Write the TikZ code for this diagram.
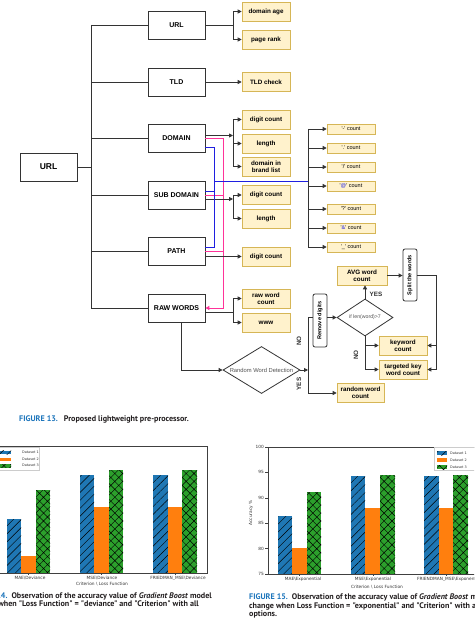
\documentclass[tikz,border=0pt]{standalone}
\usepackage{fontspec}
\setmainfont{Liberation Sans}
\newfontfamily\capfont{PT Sans}
\newfontfamily\plotfont{DejaVu Sans}
\usetikzlibrary{arrows.meta,shapes.geometric,calc,patterns.meta}
\definecolor{ln}{HTML}{333333}
\definecolor{fy}{HTML}{FFF2CC}
\definecolor{fyd}{HTML}{D6B656}
\definecolor{bl}{HTML}{1F1FE0}
\definecolor{pk}{HTML}{FF3399}
\definecolor{mb}{HTML}{1F77B4}
\definecolor{mo}{HTML}{FF7F0E}
\definecolor{mg}{HTML}{2CA02C}
\definecolor{capb}{HTML}{1C75BC}
\definecolor{capt}{HTML}{231F20}
\newcommand\myfs[2]{\fontsize{#1pt}{#2pt}\selectfont}
\newcommand\sq{\textquotesingle}
\newcommand\barB[4]{\fill[mb] (#1,#3) rectangle (#2,#4); \fill[pattern={Lines[angle=45,distance=5.6pt,line width=0.45pt]}, pattern color=black] (#1,#3) rectangle (#2,#4);}
\newcommand\barO[4]{\fill[mo] (#1,#3) rectangle (#2,#4);}
\newcommand\barG[4]{\fill[mg] (#1,#3) rectangle (#2,#4); \fill[pattern={Hatch[angle=45,distance=5.6pt,line width=0.45pt]}, pattern color=black] (#1,#3) rectangle (#2,#4);}
\begin{document}
\begin{tikzpicture}[x=1pt,y=-1pt,
  line/.style={draw=ln, line width=0.8pt},
  arr/.style={line, -{Triangle[length=4pt,width=4pt]}},
  mbox/.style={draw=ln, line width=0.8pt, minimum width=57pt, minimum height=28pt, inner sep=0pt, font=\bfseries\myfs{7}{8}},
  feat/.style={fill=fy, draw=fyd, line width=0.6pt, minimum width=48pt, minimum height=19pt, inner sep=0pt, align=center, font=\bfseries\myfs{6.3}{7}},
  cnt/.style={fill=fy, draw=fyd, line width=0.6pt, minimum width=48pt, minimum height=10pt, inner sep=0pt, font=\myfs{5.5}{6}},
  vbox/.style={draw=ln, line width=0.8pt, rounded corners=2pt, minimum width=14pt, inner sep=0pt, font=\bfseries\myfs{5.6}{6}},
  dia/.style={diamond, draw=ln, line width=0.8pt, inner sep=0pt},
  yn/.style={font=\bfseries\myfs{6.3}{7}, text=ln, inner sep=0pt},
  bluel/.style={draw=bl, line width=0.9pt},
  pinkl/.style={draw=pk, line width=0.9pt},
  capB/.style={anchor=base west, inner sep=0pt, font=\capfont\bfseries\myfs{8.1}{9}, text=capb},
  capT/.style={anchor=base west, inner sep=0pt, font=\capfont\bfseries\myfs{8.1}{9}, text=capt},
  tick/.style={font=\plotfont\myfs{4.3}{5}, inner sep=0pt, text=black!80},
  leg/.style={font=\plotfont\myfs{3.4}{4}, inner sep=0pt, anchor=west, text=black!80}]
\useasboundingbox (0,0) rectangle (474,620);
\fill[white] (0,0) rectangle (474,620);
\begin{scope}
\clip (0,0) rectangle (474,620);
% ---------- main boxes ----------
\node[mbox, font=\bfseries\myfs{8.5}{9}] (u0) at (48.5,167) {URL};
\node[mbox] (bURL) at (176.5,25) {URL};
\node[mbox] (bTLD) at (176.5,82) {TLD};
\node[mbox] (bDOM) at (176.5,138.5) {DOMAIN};
\node[mbox] (bSUB) at (176.5,195) {SUB DOMAIN};
\node[mbox] (bPATH) at (176.5,251.5) {PATH};
\node[mbox] (bRAW) at (176.5,308) {RAW WORDS};
\coordinate (tk) at (91,0);
\draw[line] (u0.east) -- (tk |- u0.east);
\draw[line] (tk |- bURL.west) -- (tk |- bRAW.west);
\foreach \n in {bURL,bTLD,bDOM,bSUB,bPATH,bRAW} \draw[line] (tk |- \n.west) -- (\n.west);
% ---------- feature boxes ----------
\node[feat] (fAge) at (266,11.5) {domain age};
\node[feat] (fRank) at (266,39.5) {page rank};
\node[feat] (fTLD) at (266,82) {TLD check};
\node[feat] (fDig1) at (266,119.5) {digit count};
\node[feat] (fLen1) at (266,143.5) {length};
\node[feat] (fBrand) at (266,166.5) {domain in\\brand list};
\node[feat] (fDig2) at (266,195) {digit count};
\node[feat] (fLen2) at (266,218.5) {length};
\node[feat] (fDig3) at (266,256.5) {digit count};
\node[feat] (fRaw) at (266,298.5) {raw word\\count};
\node[feat] (fWWW) at (266,322.5) {www};
\coordinate (bx) at (233,0);
% URL
\draw[line] (bURL.east) -- (bx |- bURL.east);
\draw[line] (bx |- fAge) -- (bx |- fRank);
\draw[arr] (bx |- fAge) -- (fAge);
\draw[arr] (bx |- fRank) -- (fRank);
% TLD
\draw[arr] (bTLD) -- (fTLD);
% pink
\coordinate (pv) at (223,0);
\draw[pinkl, -{Triangle[length=4pt,width=4pt]}] (bDOM.east) -- (pv |- bDOM.east) -- (pv |- bRAW.east) -- (bRAW.east);
\draw[pinkl] (bSUB.east) -- (pv |- bSUB.east);
\draw[pinkl] (bPATH.east) -- (pv |- bPATH.east);
% DOMAIN
\path ($(bDOM.east)+(0,-3)$) coordinate (d1);
\draw[arr] (d1) -- (bx |- d1);
\draw[line] (bx |- fDig1) -- (bx |- fBrand);
\foreach \n in {fDig1,fLen1,fBrand} \draw[arr] (bx |- \n) -- (\n);
% SUB DOMAIN
\path ($(bSUB.east)+(0,4)$) coordinate (s1);
\draw[arr] (s1) -- (bx |- s1);
\draw[line] (bx |- fDig2) -- (bx |- fLen2);
\foreach \n in {fDig2,fLen2} \draw[arr] (bx |- \n) -- (\n);
% PATH
\draw[arr] (bPATH.east |- fDig3) -- (fDig3);
% RAW WORDS
\path ($(bRAW.east)+(0,4)$) coordinate (r1);
\draw[line] (r1) -- (bx |- r1);
\draw[line] (bx |- fRaw) -- (bx |- fWWW);
\foreach \n in {fRaw,fWWW} \draw[arr] (bx |- \n) -- (\n);
% ---------- count boxes ----------
\node[cnt] (c1) at (351,129) {\sq-\sq\ count};
\node[cnt] (c2) at (351,148) {\sq.\sq\ count};
\node[cnt] (c3) at (351,167) {\sq/\sq\ count};
\node[cnt] (c4) at (351,186) {\sq\textcolor{bl}{@}\sq\ count};
\node[cnt] (c5) at (351,209) {\sq?\sq\ count};
\node[cnt] (c6) at (351,228) {\sq\textcolor{bl}{\&}\sq\ count};
\node[cnt] (c7) at (351,247) {\sq\_\sq\ count};
\coordinate (cx) at (308,0);
\draw[line] (cx |- c1) -- (cx |- c7);
\foreach \n in {c1,c2,c3,c4,c5,c6,c7} \draw[arr] (cx |- \n) -- (\n);
% blue
\coordinate (bv) at (214,0);
\path ($(bDOM.east)+(0,8.5)$) coordinate (db) ($(bSUB.east)+(0,-4)$) coordinate (sb) ($(bPATH.east)+(0,-4.5)$) coordinate (pb);
\coordinate (bj) at (214,181);
\draw[bluel] (db) -- (bv |- db) -- (bv |- pb) -- (pb);
\draw[bluel] (sb) -- (bv |- sb);
\draw[bluel] (bj) -- (cx |- bj);
% ---------- random word detection ----------
\node[dia, minimum width=77pt, minimum height=47pt, label={[font=\myfs{5.8}{6}, text=ln!85]center:Random Word Detection}] (rwd) at (261.5,370) {};
\draw[arr] ($(bRAW.south)+(4.5,0)$) |- (rwd.west);
\node[dia, minimum width=56pt, minimum height=37pt, label={[font=\myfs{5.2}{6}, text=ln!85]center:if len(word)>7}] (ifd) at (365,317.5) {};
\node[vbox, minimum height=53pt] (rmd) at (320,320.5) {\rotatebox{90}{Remove digits}};
\node[feat, minimum width=50pt] (avg) at (362,275.5) {AVG word\\count};
\node[vbox, minimum height=52pt] (spl) at (410,275) {\rotatebox{90}{Split the words}};
\node[feat] (kw) at (403,345.5) {keyword\\count};
\node[feat] (tkw) at (403,369.5) {targeted key\\word count};
\node[feat, minimum width=47pt] (rwc) at (360.5,393) {random word\\count};
\coordinate (vx) at (308,0);
\draw[arr] (rwd.east) -- (vx |- rwd.east);
\draw[line] (vx |- ifd.west) -- (vx |- rwc.west);
\draw[arr] (vx |- rwc.west) -- (rwc.west);
\draw[line] (vx |- ifd.west) -- (rmd.west |- ifd.west);
\draw[arr] (rmd.east |- ifd.west) -- (ifd.west);
\draw[arr] (ifd.north) -- (ifd.north |- avg.south);
\draw[arr] (avg.east) -- (spl.west |- avg.east);
\coordinate (rx) at (436,0);
\draw[line] (spl.east) -- (rx |- spl.east) -- (rx |- tkw.east);
\draw[arr] (rx |- kw.east) -- (kw.east);
\draw[arr] (rx |- tkw.east) -- (tkw.east);
\draw[line] (ifd.south) -- (ifd.south |- tkw.west);
\draw[arr] (ifd.south |- kw.west) -- (kw.west);
\draw[arr] (ifd.south |- tkw.west) -- (tkw.west);
\node[yn] at (376,294) {YES};
\node[yn, rotate=90] at (299,341) {NO};
\node[yn, rotate=90] at (299,384) {YES};
\node[yn, rotate=90] at (356,355) {NO};
% ---------- caption 13 ----------
\node[capT] at (19,421.5) {\textcolor{capb}{FIGURE 13.}\hspace{6pt}Proposed lightweight pre-processor.};
% ---------- left chart ----------
\barB{7}{21}{519}{573} \barO{21}{36}{556}{573} \barG{36}{50}{490}{573}
\barB{80}{94}{475}{573} \barO{94}{109}{507}{573} \barG{109}{123}{470}{573}
\barB{153}{168}{475}{573} \barO{168}{182}{507}{573} \barG{182}{197}{470}{573}
\draw[black!75, line width=0.5pt] (-30,446) rectangle (207,573);
\foreach \x in {28.5,101.5,175} \draw[black!75, line width=0.4pt] (\x,573) -- (\x,575);
\node[tick] at (30,578) {MAE\textbackslash Deviance};
\node[tick] at (102,578) {MSE\textbackslash Deviance};
\node[tick] at (178,578) {FRIEDMAN\_MSE\textbackslash Deviance};
\node[tick] at (102,584.5) {Criterion \textbackslash\ Loss Function};
\draw[black!20, fill=white, line width=0.4pt] (-5,447) rectangle (39,470.5);
\barB{-5}{11}{450.5}{454} \barO{-5}{11}{457.5}{461} \barG{-5}{11}{464}{467.5}
\node[leg] at (22,452) {Dataset 1};
\node[leg] at (22,459) {Dataset 2};
\node[leg] at (22,465.5) {Dataset 3};
% ---------- right chart ----------
\barB{278}{292}{516}{574} \barO{292}{307}{548}{574} \barG{307}{321}{492}{574}
\barB{351}{365}{476}{574} \barO{365}{380}{508}{574} \barG{380}{395}{475}{574}
\barB{424}{439}{476}{574} \barO{439}{453}{508}{574} \barG{453}{468}{475}{574}
\draw[black!75, line width=0.5pt] (268,447) rectangle (500,574);
\foreach \v in {75,80,...,100} {
  \draw[black!75, line width=0.4pt] (265,{574-5.08*(\v-75)}) -- (268,{574-5.08*(\v-75)});
  \node[tick, anchor=east] at (264,{574-5.08*(\v-75)}) {\v};
}
\foreach \x in {299.5,373,446} \draw[black!75, line width=0.4pt] (\x,574) -- (\x,576);
\node[tick, rotate=90] at (251,513) {Accuracy \%};
\node[tick] at (303,579) {MAE\textbackslash Exponential};
\node[tick] at (373,579) {MSE\textbackslash Exponential};
\node[tick, anchor=west] at (417,579) {FRIENDMAN\_MSE\textbackslash Exponential};
\node[tick] at (377,587) {Criterion \textbackslash\ Loss Function};
\draw[black!20, fill=white, line width=0.4pt] (434,447.5) rectangle (490,470.5);
\barB{437}{447}{451}{455} \barO{437}{447}{458}{462} \barG{437}{447}{465}{469}
\node[leg] at (450,453) {Dataset 1};
\node[leg] at (450,460) {Dataset 2};
\node[leg] at (450,467) {Dataset 3};
% ---------- captions 14 / 15 ----------
\node[capT, anchor=base east] at (212,598.5) {\textcolor{capb}{FIGURE 14.}\hspace{4pt}Observation of the accuracy value of \textit{Gradient Boost} model};
\node[capT, anchor=base east] at (199,606.5) {when "Loss Function" = "deviance" and "Criterion" with all};
\node[capT] at (249,599.5) {\textcolor{capb}{FIGURE 15.}\hspace{4pt}Observation of the accuracy value of \textit{Gradient Boost} model};
\node[capT] at (249,608) {change when Loss Function = "exponential" and "Criterion" with all};
\node[capT] at (249,616.5) {options.};
\end{scope}
\end{tikzpicture}
\end{document}
